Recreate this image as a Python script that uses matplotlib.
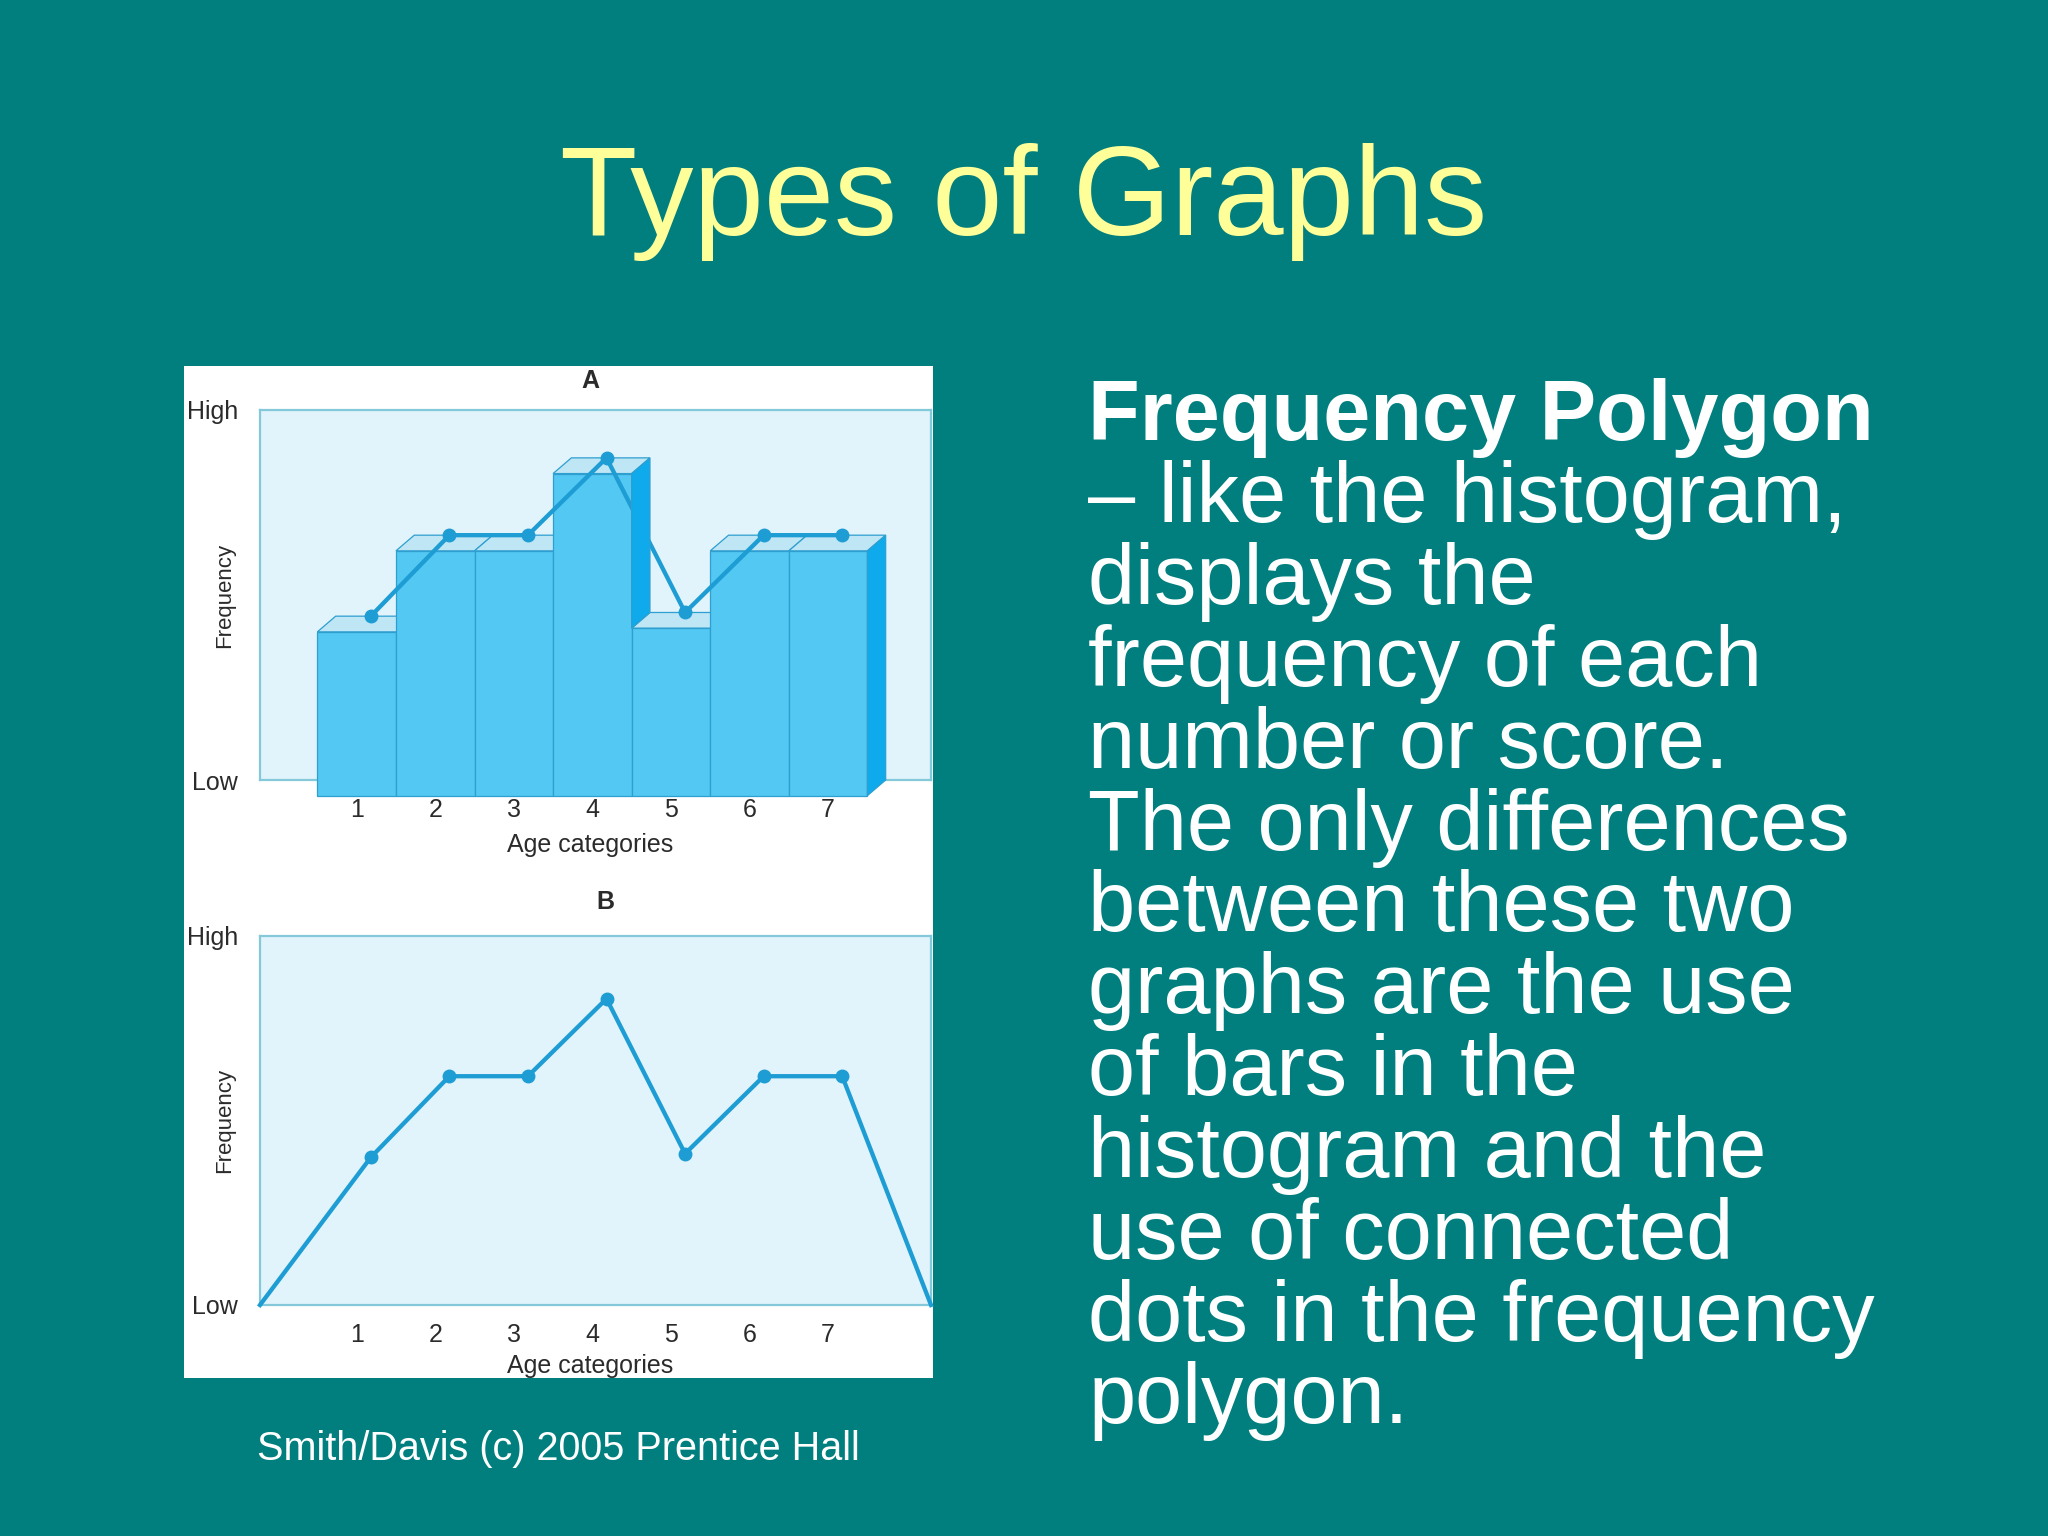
import numpy as np
import matplotlib
matplotlib.use("Agg")
import matplotlib.pyplot as plt
from matplotlib.patches import Polygon, Rectangle

# --- data ---
categories = np.array([1, 2, 3, 4, 5, 6, 7])
cat_labels = ["1", "2", "3", "4", "5", "6", "7"]
freq = [4.0, 6.2, 6.2, 8.3, 4.1, 6.2, 6.2]
level_labels = ["Low", "High"]

title = "Types of Graphs"
body_head = "Frequency Polygon"
body_lines = [
    "\u2013 like the histogram,",
    "displays the",
    "frequency of each",
    "number or score.",
    "The only differences",
    "between these two",
    "graphs are the use",
    "of bars in the",
    "histogram and the",
    "use of connected",
    "dots in the frequency",
    "polygon.",
]
credit = "Smith/Davis (c) 2005 Prentice Hall"

# --- colours ---
teal = "#017f7f"
title_col = "#FFFF99"
plot_bg = "#E1F3FB"
box_col = "#84C9D9"
bar_front = "#52C8F2"
bar_top = "#BEE6F5"
bar_side = "#0EAAEB"
bar_edge = "#2E9FD0"
line_col = "#1E9DD4"
ink = "#2b2b2b"

plt.rcParams['font.family'] = ['Liberation Sans', 'DejaVu Sans']

W, H = 2048, 1536
def fx(px):
    return px / W
def fy(py):
    return 1 - py / H

fig = plt.figure(figsize=(W / 100, H / 100), dpi=100, facecolor=teal)

# white panel behind the two charts
fig.patches.append(Rectangle((fx(184), fy(1378)), (933 - 184) / W, (1378 - 366) / H,
                             transform=fig.transFigure, facecolor="white",
                             edgecolor="none", zorder=-1))

axA = fig.add_axes([fx(260), fy(780), (931 - 260) / W, (780 - 410) / H])
axB = fig.add_axes([fx(260), fy(1305), (931 - 260) / W, (1305 - 936) / H])

xlim = (-0.23, 8.31)
point_shift = 0.18   # dots sit at mid-depth of the 3D bars

def style(ax, ylim):
    ax.set_facecolor(plot_bg)
    ax.set_xlim(*xlim)
    ax.set_ylim(*ylim)
    for s in ax.spines.values():
        s.set_color(box_col)
        s.set_linewidth(1.6)
        s.set_zorder(1)
    ax.set_xticks(categories, cat_labels)
    ax.set_yticks(list(ylim), level_labels)
    ax.tick_params(length=0, labelsize=18, labelcolor=ink)
    ax.tick_params(axis="x", pad=13)
    ax.tick_params(axis="y", pad=16)
    ax.text(-0.052, 0.5, "Frequency", rotation=90, ha="center", va="center",
            fontsize=16, color=ink, transform=ax.transAxes)

# --- chart A: 3D histogram with polygon ---
ylimA = (-0.45, 9.6)
style(axA, ylimA)
axA.text(0.492, -0.176, "Age categories", ha="center", va="center",
         fontsize=18, color=ink, transform=axA.transAxes)
axA.text(0.492, 1.078, "A", ha="center", va="center", fontsize=18,
         fontweight="bold", color=ink, transform=axA.transAxes)

dx = 0.233
dy = 15.7 / 370 * (ylimA[1] - ylimA[0])
y0 = ylimA[0]
for i, (k, v) in enumerate(zip(categories, freq)):
    l, r = k - 0.5, k + 0.5
    top = [(l, v - dy), (r, v - dy), (r + dx, v), (l + dx, v)]
    front = [(l, y0 - dy), (r, y0 - dy), (r, v - dy), (l, v - dy)]
    for pts, fc in [(top, bar_top), (front, bar_front)]:
        axA.add_patch(Polygon(pts, closed=True, facecolor=fc, edgecolor=bar_edge,
                              linewidth=0.9, clip_on=False, zorder=2))
    # right side: only the part standing above the next bar shows
    v_next = freq[i + 1] if i + 1 < len(freq) else y0
    if v > v_next:
        side = [(r, v - dy), (r + dx, v), (r + dx, v_next), (r, v_next - dy)]
        axA.add_patch(Polygon(side, closed=True, facecolor=bar_side,
                              edgecolor=bar_edge, linewidth=0.9,
                              clip_on=False, zorder=3.5))

axA.plot(categories + point_shift, freq, color=line_col, lw=3.1, marker="o",
         markersize=9, zorder=3, clip_on=False)

# --- chart B: frequency polygon ---
ylimB = (0, 10)
style(axB, ylimB)
axB.text(0.492, -0.165, "Age categories", ha="center", va="center",
         fontsize=18, color=ink, transform=axB.transAxes)
axB.text(0.514, 1.092, "B", ha="center", va="center", fontsize=18,
         fontweight="bold", color=ink, transform=axB.transAxes)

px = np.concatenate([[xlim[0]], categories + point_shift, [xlim[1]]])
py = np.concatenate([[ylimB[0]], freq, [ylimB[0]]])
axB.plot(px, py, color=line_col, lw=3.1, zorder=3, clip_on=False)
axB.plot(categories + point_shift, freq, "o", color=line_col, markersize=9,
         zorder=4, clip_on=False)

# --- slide text ---
fig.text(0.5, fy(235), title, ha="center", va="baseline", fontsize=91,
         color=title_col)

x0 = fx(1088)
step = 81.9
fig.text(x0, fy(440), body_head, ha="left", va="baseline", fontsize=61,
         fontweight="bold", color="white")
for i, line in enumerate(body_lines, start=1):
    fig.text(x0, fy(440 + step * i), line, ha="left", va="baseline",
             fontsize=61, color="white")

fig.text(fx(558), fy(1460), credit, ha="center", va="baseline", fontsize=28.5,
         color="white")

fig.savefig("out.png", dpi=100, facecolor=teal)
